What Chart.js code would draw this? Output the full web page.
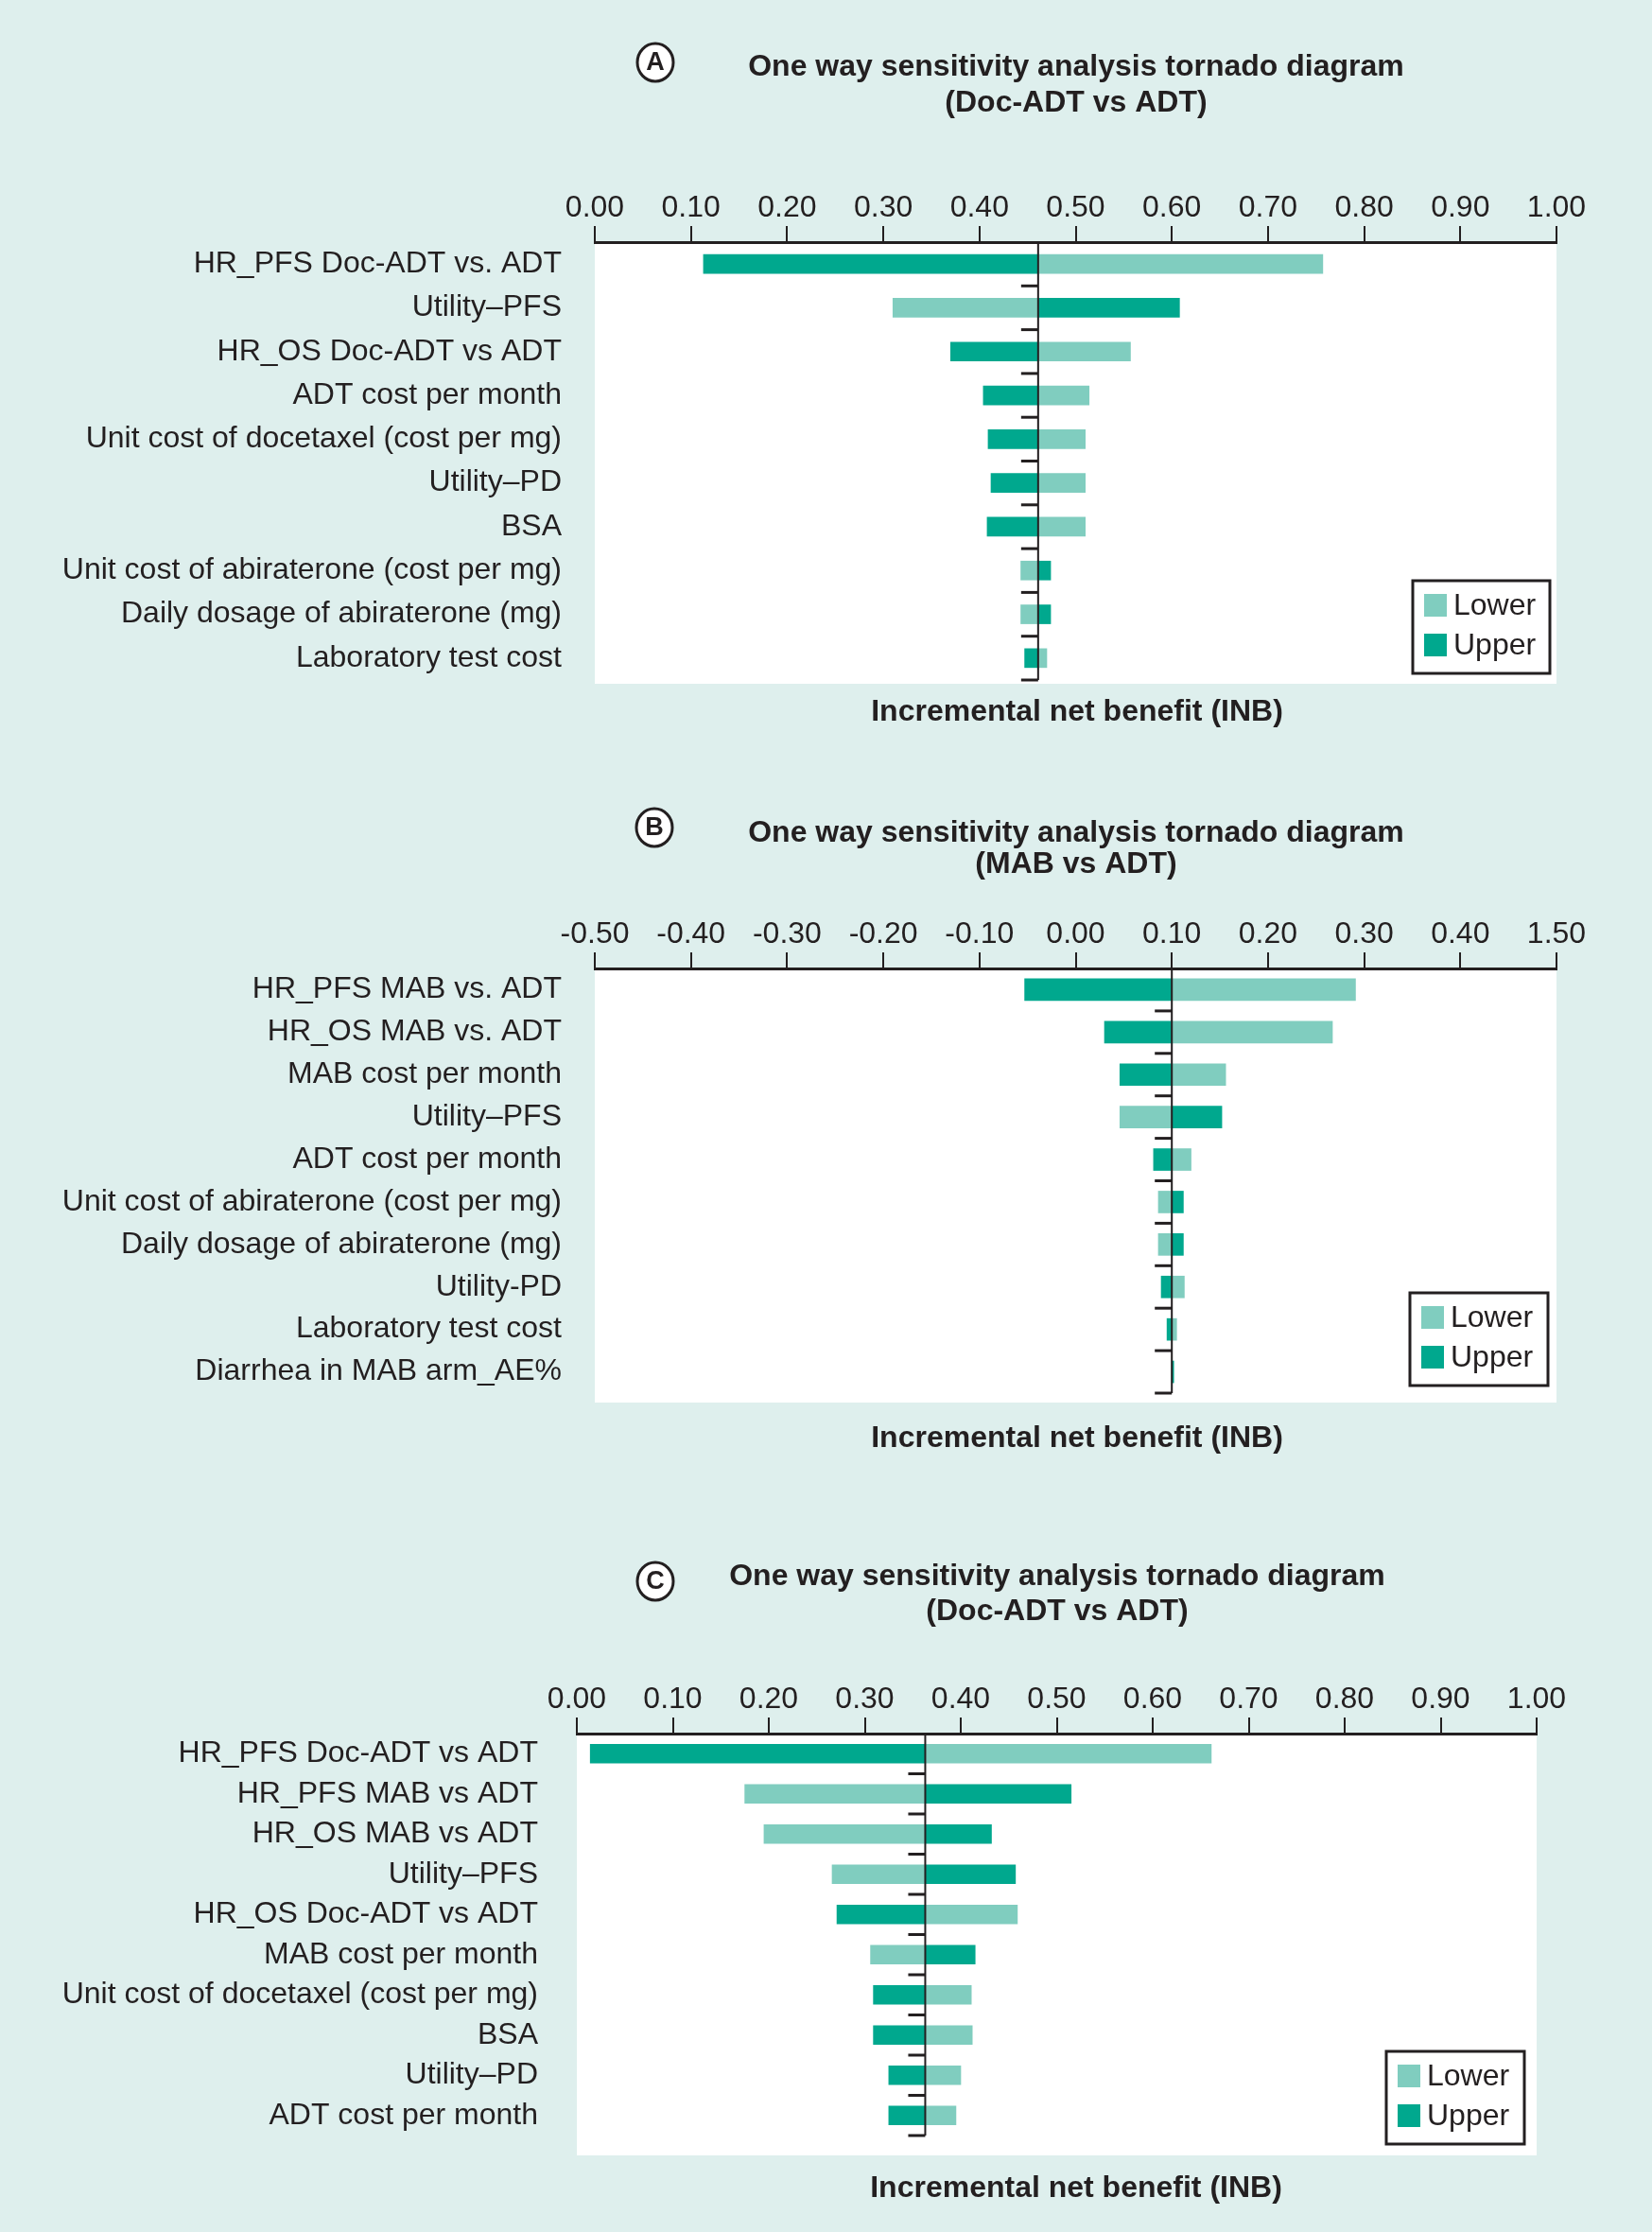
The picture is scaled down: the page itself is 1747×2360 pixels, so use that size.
<!DOCTYPE html>
<html>
<head>
<meta charset="utf-8">
<title>One way sensitivity analysis tornado diagrams</title>
<script src="https://cdn.jsdelivr.net/npm/chart.js@4.4.1/dist/chart.umd.min.js"></script>
<style>
    html, body { margin: 0; padding: 0; background: #deefed; }
    canvas { position: absolute; left: 0; }
</style>
</head>
<body>
<canvas id="chartA" width="1747" height="800" style="top:0px"></canvas>
<canvas id="chartB" width="1747" height="790" style="top:800px"></canvas>
<canvas id="chartC" width="1747" height="770" style="top:1590px"></canvas>
<script>
// Panel A - Doc-ADT vs ADT
const categoriesA = ['HR_PFS Doc-ADT vs. ADT', 'Utility\u2013PFS', 'HR_OS Doc-ADT vs ADT', 'ADT cost per month',
    'Unit cost of docetaxel (cost per mg)', 'Utility\u2013PD', 'BSA', 'Unit cost of abiraterone (cost per mg)',
    'Daily dosage of abiraterone (mg)', 'Laboratory test cost'];
const lowerA = [0.757, 0.310, 0.557, 0.514, 0.510, 0.510, 0.510, 0.443, 0.443, 0.470];
const upperA = [0.113, 0.608, 0.370, 0.404, 0.409, 0.412, 0.408, 0.474, 0.474, 0.447];
const baseA = 0.461;
const ticksA = ['0.00', '0.10', '0.20', '0.30', '0.40', '0.50', '0.60', '0.70', '0.80', '0.90', '1.00'];

// Panel B - MAB vs ADT
const categoriesB = ['HR_PFS MAB vs. ADT', 'HR_OS MAB vs. ADT', 'MAB cost per month', 'Utility\u2013PFS',
    'ADT cost per month', 'Unit cost of abiraterone (cost per mg)', 'Daily dosage of abiraterone (mg)',
    'Utility-PD', 'Laboratory test cost', 'Diarrhea in MAB arm_AE%'];
const lowerB = [0.291, 0.267, 0.156, 0.046, 0.120, 0.086, 0.086, 0.113, 0.105, 0.100];
const upperB = [-0.053, 0.030, 0.046, 0.152, 0.081, 0.112, 0.112, 0.089, 0.095, 0.102];
const baseB = 0.10;
const ticksB = ['-0.50', '-0.40', '-0.30', '-0.20', '-0.10', '0.00', '0.10', '0.20', '0.30', '0.40', '1.50'];

// Panel C - Doc-ADT vs ADT
const categoriesC = ['HR_PFS Doc-ADT vs ADT', 'HR_PFS MAB vs ADT', 'HR_OS MAB vs ADT', 'Utility\u2013PFS',
    'HR_OS Doc-ADT vs ADT', 'MAB cost per month', 'Unit cost of docetaxel (cost per mg)', 'BSA',
    'Utility\u2013PD', 'ADT cost per month'];
const lowerC = [0.661, 0.175, 0.195, 0.266, 0.459, 0.306, 0.411, 0.412, 0.400, 0.395];
const upperC = [0.014, 0.515, 0.432, 0.457, 0.271, 0.415, 0.309, 0.309, 0.325, 0.325];
const baseC = 0.363;
const ticksC = ['0.00', '0.10', '0.20', '0.30', '0.40', '0.50', '0.60', '0.70', '0.80', '0.90', '1.00'];

const FONT = "'Liberation Sans', Arial, Helvetica, sans-serif";
const INK = '#231f20';
const LOWER_COLOR = '#80cdbf';
const UPPER_COLOR = '#00a88e';

// draws the white plot panel, centre line, row ticks, legend and titles
const tornadoExtras = {
    id: 'tornadoExtras',
    beforeDraw(chart, args, o) {
        const ctx = chart.ctx, a = chart.chartArea;
        ctx.save();
        ctx.fillStyle = '#ffffff';
        ctx.fillRect(a.left, a.top, a.right - a.left, a.bottom - a.top + o.whiteExtra);
        ctx.restore();
    },
    afterDatasetsDraw(chart, args, o) {
        const ctx = chart.ctx, a = chart.chartArea;
        const x = chart.scales.x.getPixelForValue(o.base);
        const yScale = chart.scales.y;
        const n = chart.data.labels.length;
        const step = (yScale.getPixelForValue(n - 1) - yScale.getPixelForValue(0)) / (n - 1);

        ctx.save();
        ctx.strokeStyle = INK;
        ctx.lineWidth = 2;
        ctx.beginPath();
        ctx.moveTo(x, a.top);
        ctx.lineTo(x, a.bottom);
        ctx.stroke();

        ctx.lineWidth = 3;
        for (let i = 0; i < n; i++) {
            const yy = yScale.getPixelForValue(i) + step / 2;
            ctx.beginPath();
            ctx.moveTo(x - 18, yy);
            ctx.lineTo(x, yy);
            ctx.stroke();
        }
        ctx.restore();
    },
    afterDraw(chart, args, o) {
        const ctx = chart.ctx;
        ctx.save();

        // legend box
        const lg = o.legend;
        ctx.fillStyle = '#ffffff';
        ctx.fillRect(lg.x, lg.y, lg.w, lg.h);
        ctx.strokeStyle = INK;
        ctx.lineWidth = 3;
        ctx.strokeRect(lg.x, lg.y, lg.w, lg.h);
        ctx.font = '32px ' + FONT;
        ctx.textBaseline = 'middle';
        ctx.textAlign = 'left';
        chart.data.datasets.forEach((ds, i) => {
            const sy = lg.y + 14 + i * 42;
            ctx.fillStyle = ds.backgroundColor;
            ctx.fillRect(lg.x + 12, sy, 24, 24);
            ctx.fillStyle = INK;
            ctx.fillText(ds.label, lg.x + 43, sy + 13);
        });

        // titles
        ctx.textAlign = 'center';
        ctx.textBaseline = 'alphabetic';
        ctx.font = 'bold 32px ' + FONT;
        ctx.fillStyle = INK;
        o.title.forEach((line, i) => ctx.fillText(line, o.titleX, o.titleY[i]));
        ctx.fillText('Incremental net benefit (INB)', o.xTitle.x, o.xTitle.y);

        // circled panel letter
        ctx.beginPath();
        ctx.ellipse(o.badge.x, o.badge.y, 19, 20, 0, 0, Math.PI * 2);
        ctx.fillStyle = '#ffffff';
        ctx.fill();
        ctx.lineWidth = 3;
        ctx.stroke();
        ctx.fillStyle = INK;
        ctx.font = 'bold 27px ' + FONT;
        ctx.textBaseline = 'middle';
        ctx.fillText(o.badge.letter, o.badge.x, o.badge.y + 1);
        ctx.restore();
    }
};

function drawTornado(canvasId, labels, lower, upper, base, tickLabels, min, max, lay) {
    const ctx = document.getElementById(canvasId).getContext('2d');
    const height = ctx.canvas.height;
    new Chart(ctx, {
        type: 'bar',
        data: {
            labels: labels,
            datasets: [
                {
                    label: 'Lower',
                    data: lower.map(v => [base, v]),
                    backgroundColor: LOWER_COLOR,
                    barThickness: lay.bar,
                    grouped: false,
                },
                {
                    label: 'Upper',
                    data: upper.map(v => [base, v]),
                    backgroundColor: UPPER_COLOR,
                    barThickness: lay.bar,
                    grouped: false,
                },
            ],
        },
        options: {
            indexAxis: 'y',
            responsive: false,
            animation: false,
            layout: {
                padding: { top: lay.top - 70, right: 1747 - lay.right, bottom: height - lay.bottom, left: 0 },
            },
            plugins: {
                legend: { display: false },
                tooltip: { enabled: false },
                tornadoExtras: {
                    base: base,
                    whiteExtra: lay.whiteExtra,
                    legend: lay.legend,
                    title: lay.title,
                    titleX: lay.titleX,
                    titleY: lay.titleY,
                    xTitle: lay.xTitle,
                    badge: lay.badge,
                },
            },
            scales: {
                x: {
                    type: 'linear',
                    position: 'top',
                    min: min,
                    max: max,
                    ticks: {
                        stepSize: 0.1,
                        autoSkip: false,
                        maxRotation: 0,
                        padding: 0,
                        color: INK,
                        font: { size: 32, family: FONT },
                        callback: (value, index) => tickLabels[index],
                    },
                    grid: { drawOnChartArea: false, drawTicks: true, tickLength: 17, color: INK, lineWidth: 2 },
                    border: { display: true, color: INK, width: 3 },
                    afterFit: (scale) => { scale.height = 70; },
                },
                y: {
                    type: 'category',
                    position: 'left',
                    offset: true,
                    grid: { display: false },
                    border: { display: false },
                    ticks: {
                        autoSkip: false,
                        padding: lay.labelPad,
                        color: INK,
                        font: { size: 32, family: FONT },
                    },
                    afterFit: (scale) => { scale.width = lay.left; },
                },
            },
        },
        plugins: [tornadoExtras],
    });
}

drawTornado('chartA', categoriesA, lowerA, upperA, baseA, ticksA, 0, 1, {
    left: 629, right: 1646, top: 256, bottom: 719, whiteExtra: 4, bar: 20, labelPad: 27,
    title: ['One way sensitivity analysis tornado diagram', '(Doc-ADT vs ADT)'],
    titleX: 1138, titleY: [80, 118],
    xTitle: { x: 1139, y: 762 },
    badge: { x: 693, y: 66, letter: 'A' },
    legend: { x: 1494, y: 614, w: 145, h: 98 },
});

drawTornado('chartB', categoriesB, lowerB, upperB, baseB, ticksB, -0.5, 0.5, {
    left: 629, right: 1646, top: 224, bottom: 673, whiteExtra: 10, bar: 23, labelPad: 27,
    title: ['One way sensitivity analysis tornado diagram', '(MAB vs ADT)'],
    titleX: 1138, titleY: [90, 123],
    xTitle: { x: 1139, y: 730 },
    badge: { x: 692, y: 75, letter: 'B' },
    legend: { x: 1491, y: 567, w: 146, h: 98 },
});

drawTornado('chartC', categoriesC, lowerC, upperC, baseC, ticksC, 0, 1, {
    left: 610, right: 1625, top: 243, bottom: 668, whiteExtra: 21, bar: 20, labelPad: 33,
    title: ['One way sensitivity analysis tornado diagram', '(Doc-ADT vs ADT)'],
    titleX: 1118, titleY: [86, 123],
    xTitle: { x: 1138, y: 733 },
    badge: { x: 693, y: 82, letter: 'C' },
    legend: { x: 1466, y: 579, w: 146, h: 98 },
});
</script>
</body>
</html>
